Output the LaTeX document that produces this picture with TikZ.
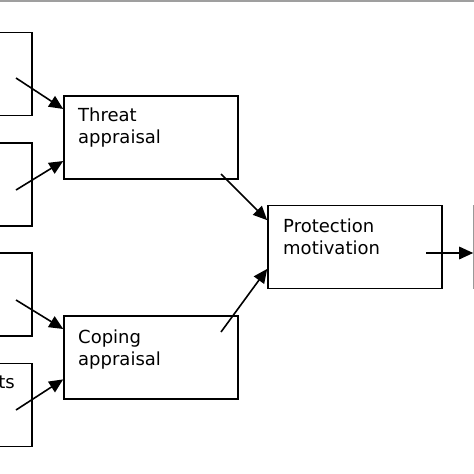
\documentclass[tikz,border=0pt]{standalone}
\usepackage{fontspec}
\setmainfont{DejaVu Sans}
\usetikzlibrary{arrows.meta}
\tikzset{
  box/.style={draw, line width=1.6pt, minimum width=174pt, minimum height=83pt},
  lbl/.style={anchor=north west, inner sep=0pt, align=left,
    font=\fontsize{18}{21.6}\selectfont},
  arr/.style={line width=1.6pt, -{Triangle[length=14pt,width=12.5pt]}}
}
\begin{document}
\begin{tikzpicture}[x=1pt,y=-1pt]
  \useasboundingbox (0,0) rectangle (474,474);
  \clip (0,0) rectangle (474,474);
  \fill[white] (0,0) rectangle (474,474);
  \draw[gray!75, line width=2.5pt] (0,1) -- (474,1);
  % inputs, cut by the left edge
  \node[box] (in1) at (-55,74) {};
  \node[box] (in2) at (-55,184.5) {};
  \node[box] (in3) at (-55,294.5) {};
  \node[box] (in4) at (-55,405) {};
  \node[lbl, anchor=base east] (in4txt) at (15,388) {ts};
  % appraisals
  \node[box] (threat) at (151,137.5) {};
  \node[lbl] (threattxt) at (78,108) {Threat\\appraisal};
  \node[box] (coping) at (151,357.5) {};
  \node[lbl] (copingtxt) at (78,330) {Coping\\appraisal};
  % motivation and outcome
  \node[box] (protect) at (355,247) {};
  \node[lbl] (protecttxt) at (283,219) {Protection\\motivation};
  \node[box, draw=gray!80] (outcome) at (561,247) {};
  % arrow tails
  \coordinate (t1) at (16,78);
  \coordinate (t2) at (16,190);
  \coordinate (t3) at (16,300);
  \coordinate (t4) at (16,410);
  \coordinate (t5) at (221,174);
  \coordinate (t6) at (221,332);
  \coordinate (t7) at (426,253);
  \draw[arr] (t1) -- (threat.162.5);
  \draw[arr] (t2) -- (threat.195.7);
  \draw[arr] (t3) -- (coping.162.5);
  \draw[arr] (t4) -- (coping.194.5);
  \draw[arr] (t5) -- (protect.163.4);
  \draw[arr] (t6) -- (protect.194.8);
  \draw[arr] (t7) -- (t7 -| outcome.west);
\end{tikzpicture}
\end{document}
